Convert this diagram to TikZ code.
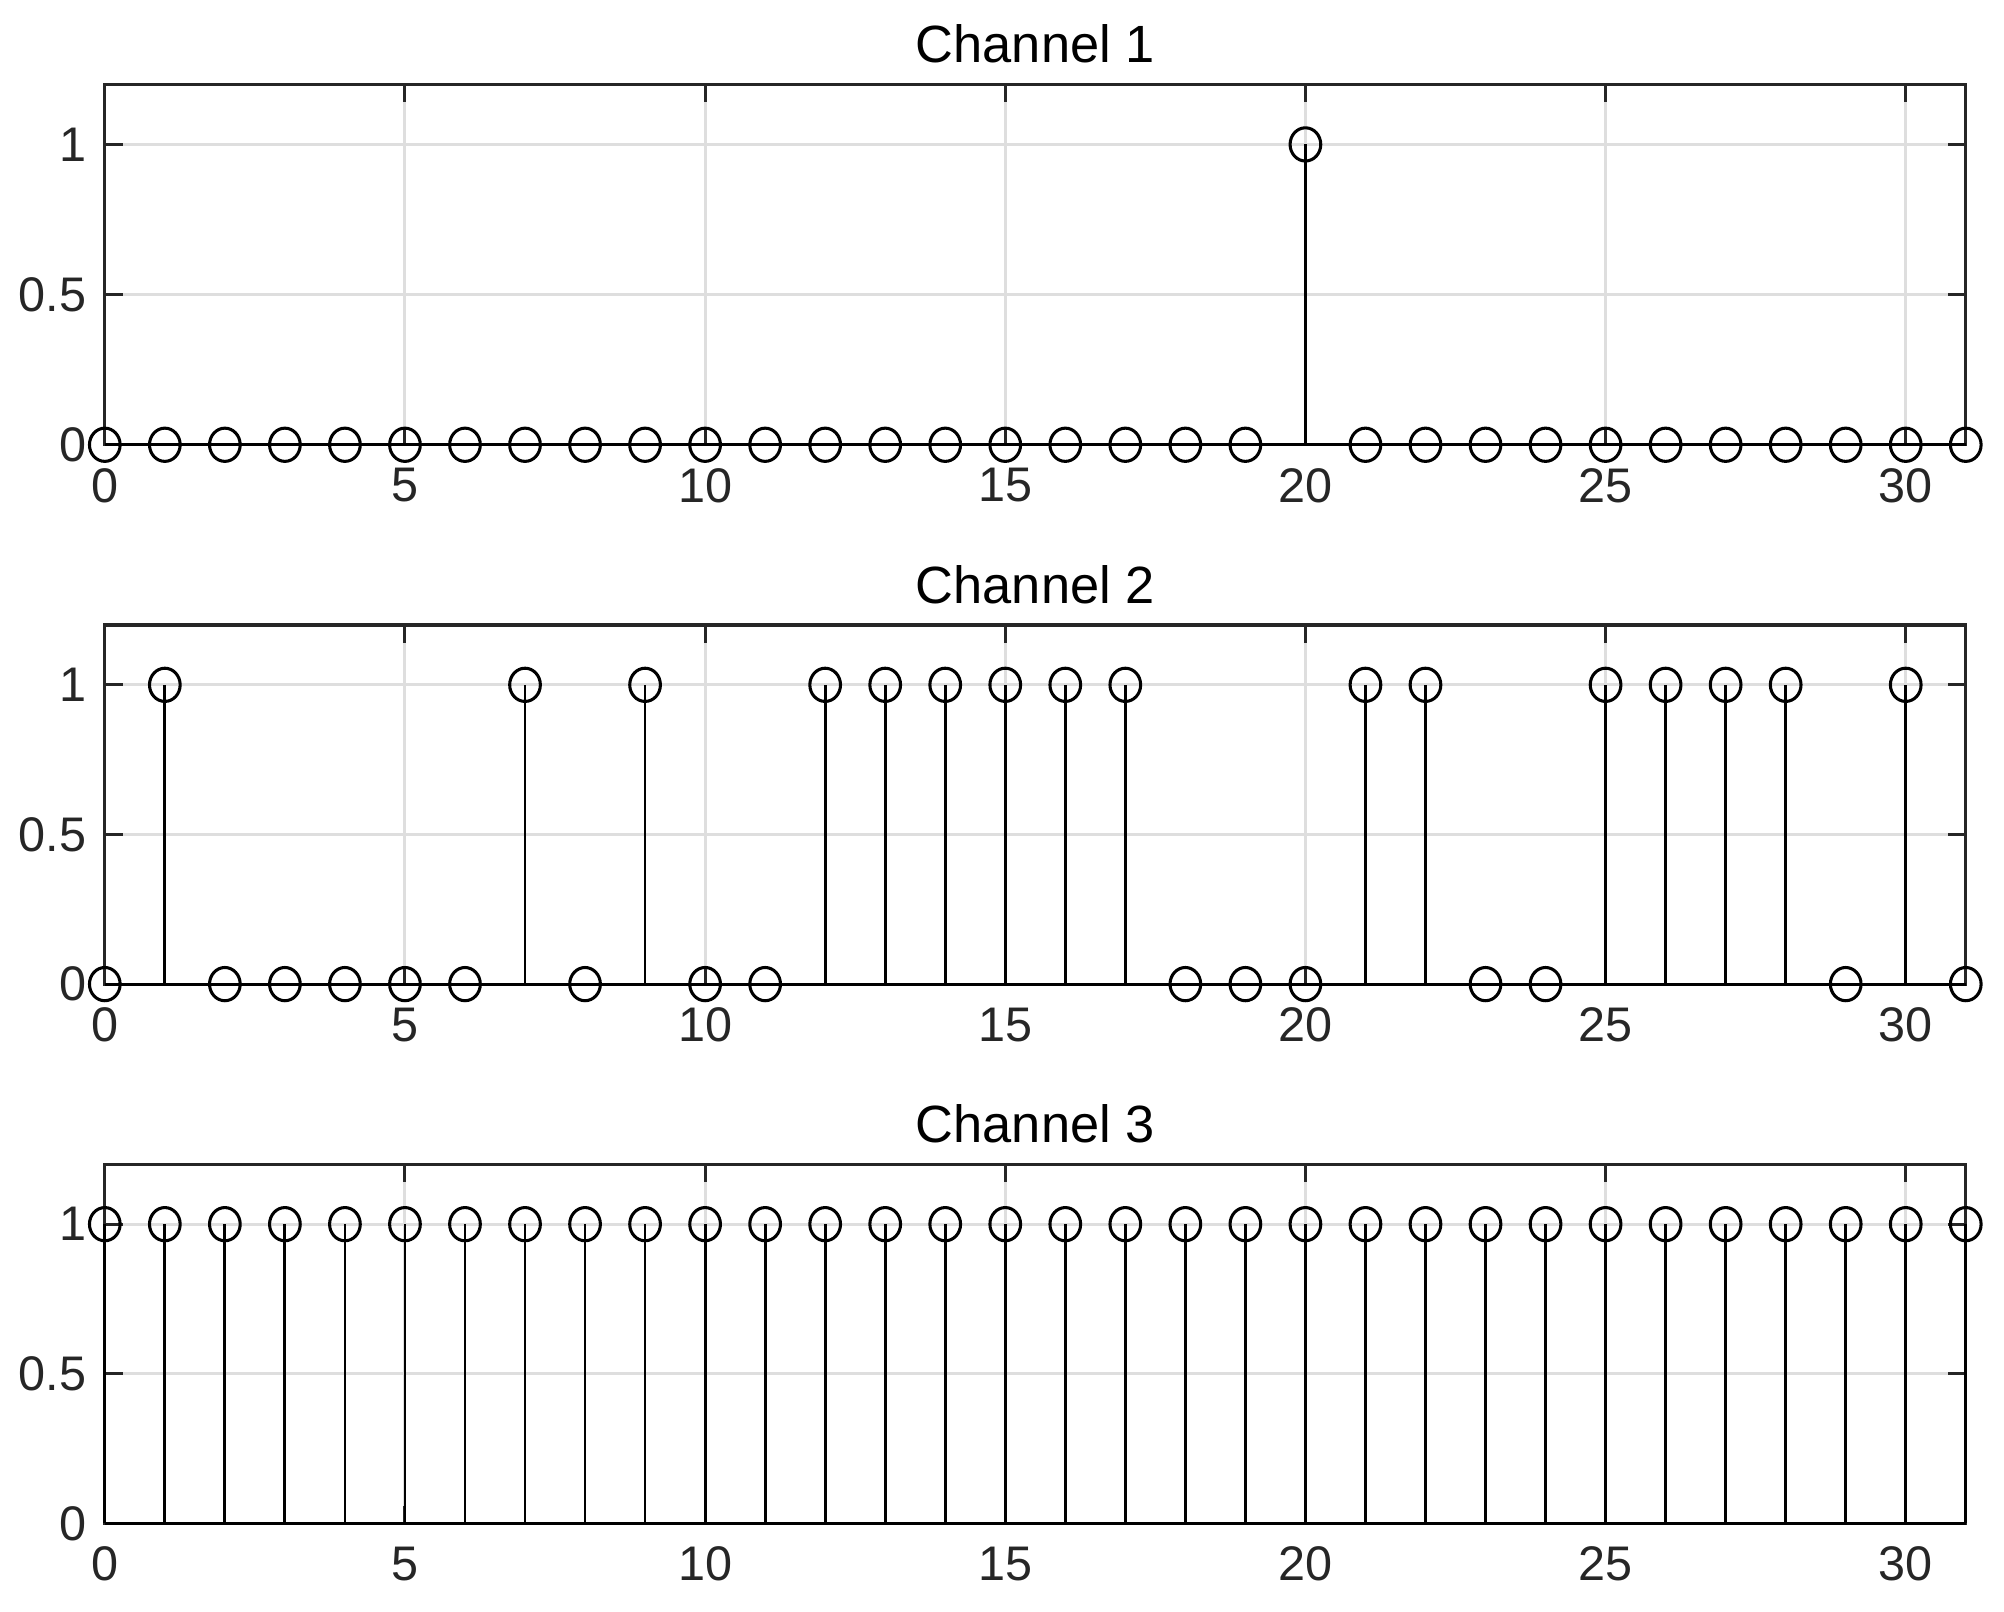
\documentclass[tikz,border=0pt]{standalone}
\usepackage{fontspec}
\setmainfont{Liberation Sans}
\begin{document}
\begin{tikzpicture}[x=0.5pt,y=-0.5pt,
  gridl/.style={draw=black!13,line width=1.2pt},
  frame/.style={draw=black!85,line width=1.2pt},
  stem/.style={draw=black,line width=1.1pt},
  mk/.style={draw=black,line width=1.2pt},
  lbl/.style={font=\fontsize{19}{22}\selectfont,text=black!85,inner sep=2pt},
  ttlstyle/.style={font=\fontsize{20.5}{24}\selectfont,text=black,inner sep=2pt}]
\useasboundingbox (0,0) rectangle (1568,1261);
\foreach \top/\bot/\ttl/\vals in {
 66/348/1/{0,0,0,0,0,0,0,0,0,0,0,0,0,0,0,0,0,0,0,0,1,0,0,0,0,0,0,0,0,0,0,0},
 489/770/2/{0,1,0,0,0,0,0,1,0,1,0,0,1,1,1,1,1,1,0,0,0,1,1,0,0,1,1,1,1,0,1,0},
 911/1192/3/{1,1,1,1,1,1,1,1,1,1,1,1,1,1,1,1,1,1,1,1,1,1,1,1,1,1,1,1,1,1,1,1}}{
  \pgfmathsetmacro{\u}{(\bot-\top)/1.2}
  \foreach \k in {5,10,...,30}{\draw[gridl] ({82+\k*46.97},\top) -- ({82+\k*46.97},\bot);}
  \foreach \v in {0.5,1}{\draw[gridl] (82,{\bot-\v*\u}) -- (1538,{\bot-\v*\u});}
  \draw[frame] (82,\top) rectangle (1538,\bot);
  \foreach \k in {0,5,...,30}{
    \draw[frame] ({82+\k*46.97},\bot) -- ++(0,-14);
    \draw[frame] ({82+\k*46.97},\top) -- ++(0,14);
    \node[lbl,anchor=north] at ({82+\k*46.97},{\bot+14}) {\k};}
  \foreach \v/\t in {0/0,0.5/0.5,1/1}{
    \draw[frame] (82,{\bot-\v*\u}) -- ++(14,0);
    \draw[frame] (1538,{\bot-\v*\u}) -- ++(-14,0);
    \node[lbl,anchor=east] at (72,{\bot-\v*\u}) {\t};}
  \node[ttlstyle,anchor=south] at (810,{\top-12}) {Channel \ttl};
  \foreach \val [count=\i from 0] in \vals {
    \ifnum\val=1
      \draw[stem] ({82+\i*46.97},\bot) -- ({82+\i*46.97},{\bot-\u});
    \fi
    \draw[mk] ({82+\i*46.97},{\bot-\val*\u}) circle[x radius=12, y radius=-13];
  }
  \draw[stem] (82,\bot) -- (1538,\bot);
}
\end{tikzpicture}
\end{document}
